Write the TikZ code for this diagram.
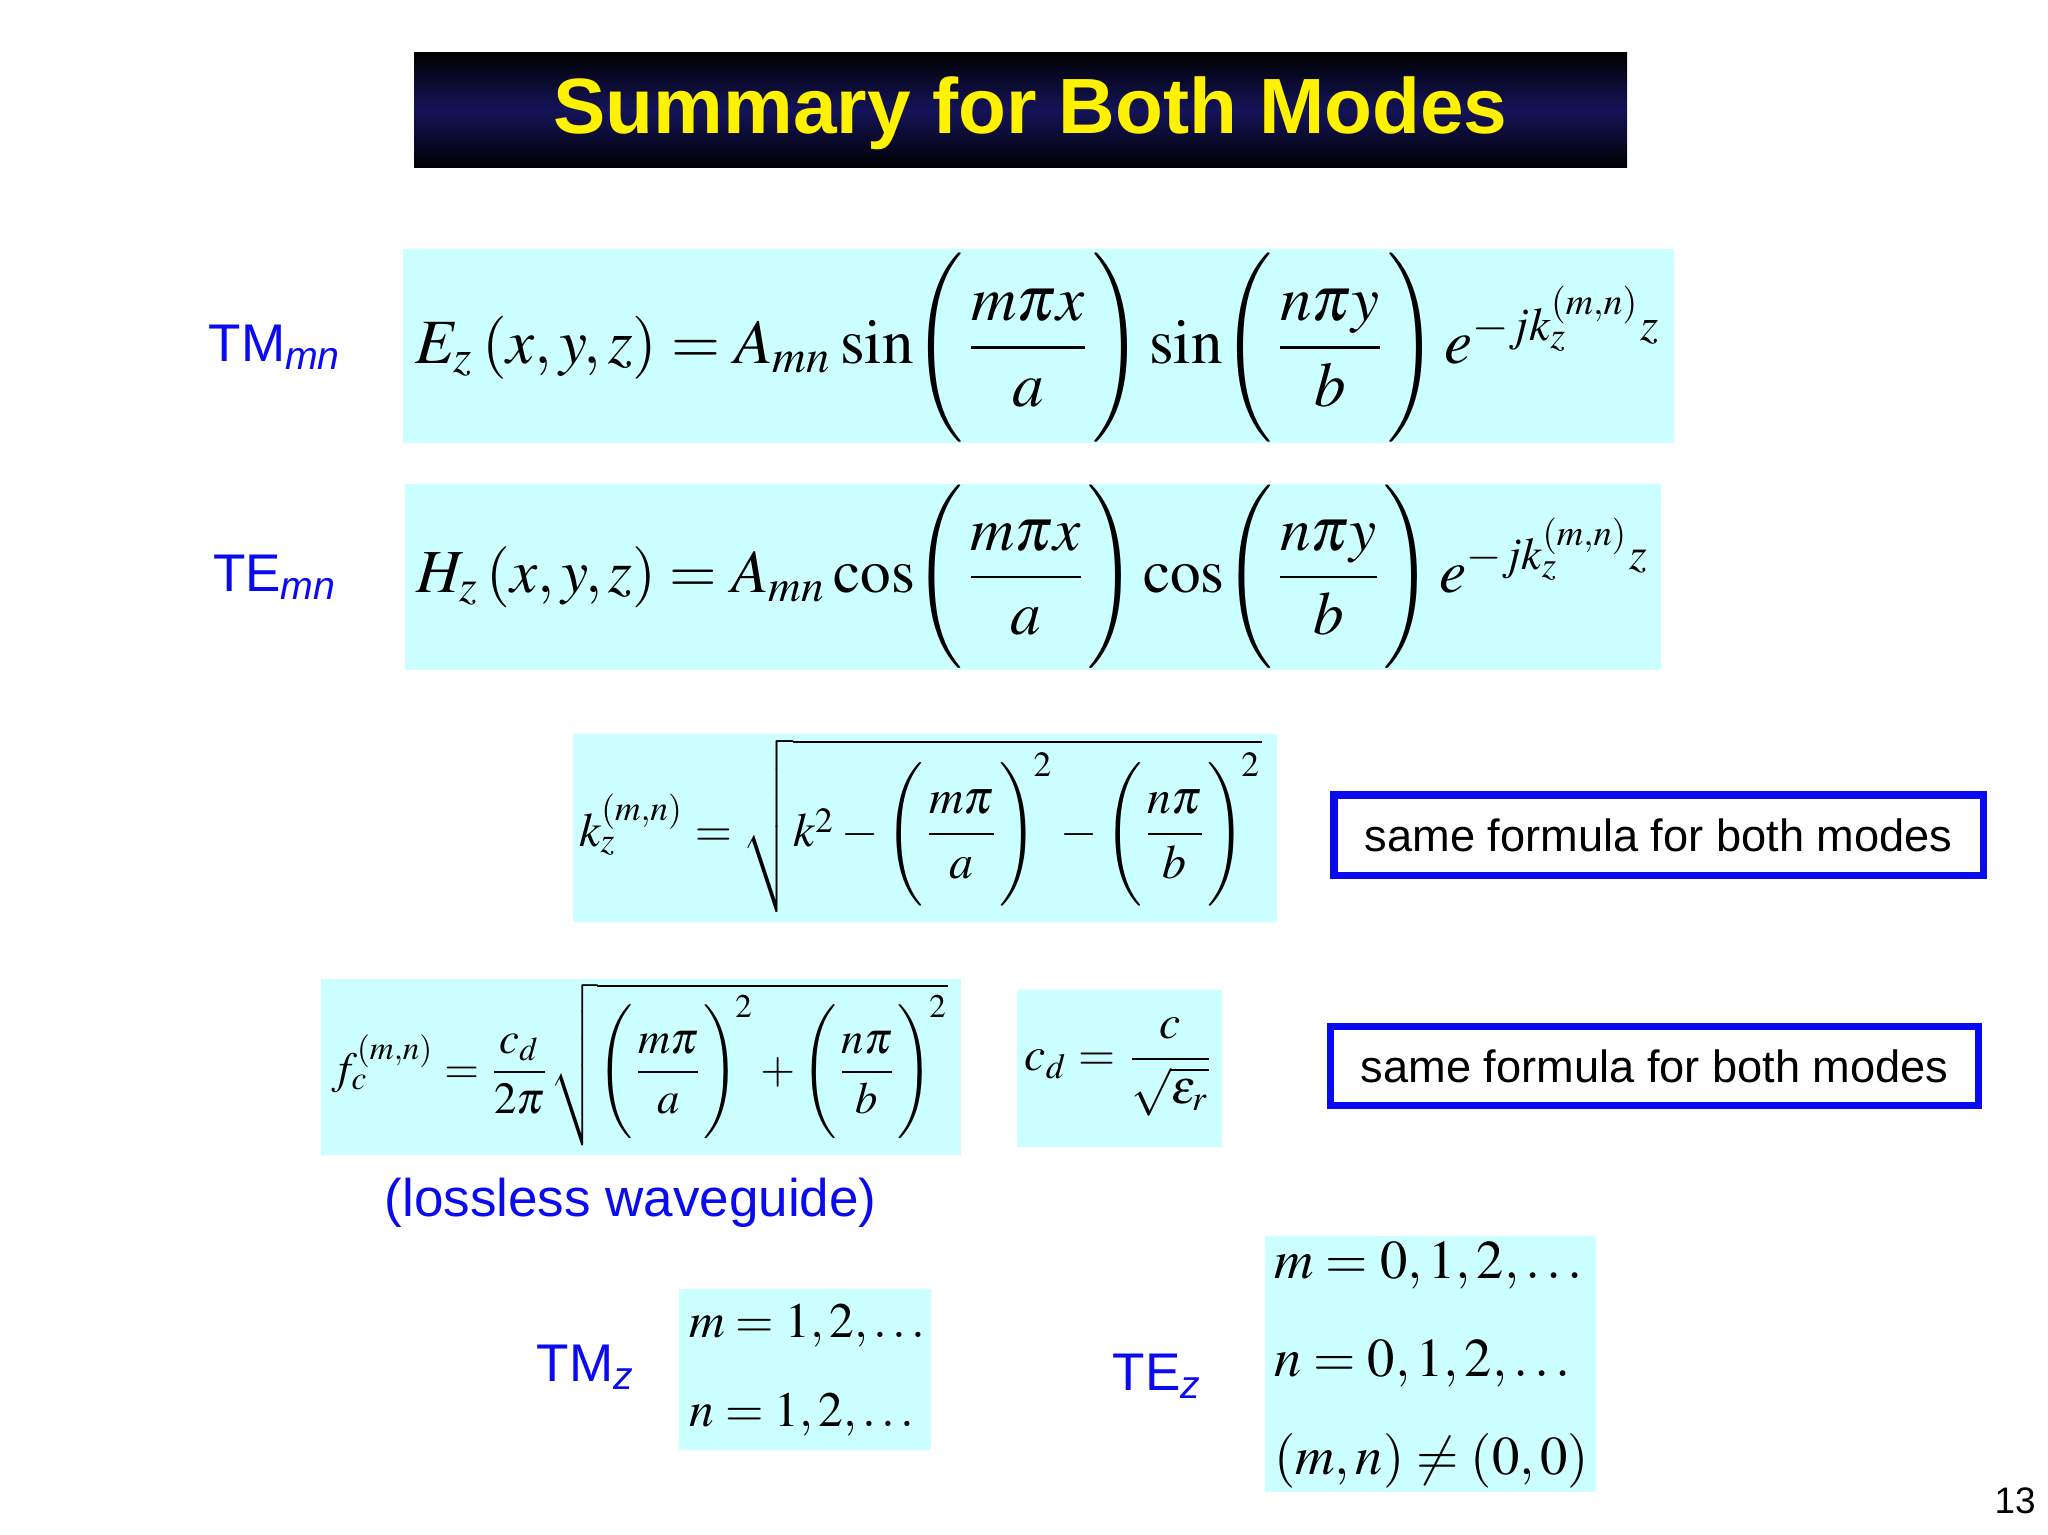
\documentclass[tikz,border=0pt]{standalone}
\usepackage{mathptmx}
\usepackage{amsmath}
\usepackage{graphicx}
\usepackage{fontspec}
\setmainfont{Liberation Sans}
\definecolor{cyanbg}{RGB}{204,255,255}
\definecolor{tblue}{RGB}{10,10,240}
\tikzset{lbl/.style={text=tblue,font=\fontsize{11.5}{13}\selectfont},
 outbox/.style={draw=tblue,line width=1.6pt,font=\fontsize{9.8}{11}\selectfont}}
\newcommand{\tall}{\vphantom{\dfrac{m_{j}^{2}}{b_{j}}}}
\begin{document}
\begin{tikzpicture}[x=0.01cm,y=-0.01cm]
\useasboundingbox (0,0) rectangle (1562,1170);
\fill[top color=black,bottom color=black,middle color={rgb,255:red,20;green,20;blue,90}] (316,40) rectangle (1241,128);
\node (title) at (786,86) {\fontsize{17}{20}\selectfont\bfseries\color{yellow} Summary for Both Modes};
% boxes
\fill[cyanbg] (307,190) rectangle (1277,338);
\fill[cyanbg] (309,369) rectangle (1267,511);
\fill[cyanbg] (437,560) rectangle (974,703);
\fill[cyanbg] (245,747) rectangle (733,881);
\fill[cyanbg] (776,755) rectangle (932,875);
\fill[cyanbg] (518,983) rectangle (710,1106);
\fill[cyanbg] (965,943) rectangle (1217,1138);
\node (e1) at (792,265) {\resizebox{9.5cm}{!}{$E_z\left(x,y,z\right)=A_{mn}\sin\!\left(\tall\dfrac{m\pi x}{a}\right)\sin\!\left(\tall\dfrac{n\pi y}{b}\right)e^{-jk_z^{(m,n)}z}$}};
\node (e2) at (788,440) {\resizebox{9.4cm}{!}{$H_z\left(x,y,z\right)=A_{mn}\cos\!\left(\tall\dfrac{m\pi x}{a}\right)\cos\!\left(\tall\dfrac{n\pi y}{b}\right)e^{-jk_z^{(m,n)}z}$}};
\node (e3) at (702,630) {\resizebox{5.2cm}{!}{$k_z^{(m,n)}=\sqrt{k^2-\left(\tall\dfrac{m\pi}{a}\right)^{\!2}-\left(\tall\dfrac{n\pi}{b}\right)^{\!2}}$}};
\node (e4) at (488,812) {\resizebox{4.7cm}{!}{$f_c^{(m,n)}=\dfrac{c_d}{2\pi}\sqrt{\left(\tall\dfrac{m\pi}{a}\right)^{\!2}+\left(\tall\dfrac{n\pi}{b}\right)^{\!2}}$}};
\node (e5) at (854,814) {\resizebox{1.45cm}{!}{$c_d=\dfrac{c}{\sqrt{\varepsilon_r}}$}};
\node[anchor=west,inner sep=0pt] (e6) at (525,1045) {\resizebox{1.8cm}{!}{$\begin{array}{@{}l@{}}m=1,2,\ldots\\[6pt] n=1,2,\ldots\end{array}$}};
\node[anchor=west,inner sep=0pt] (e7) at (971,1040) {\resizebox{2.4cm}{!}{$\begin{array}{@{}l@{}}m=0,1,2,\ldots\\[6pt] n=0,1,2,\ldots\\[6pt] \left(m,n\right)\neq\left(0,0\right)\end{array}$}};
% labels
\node[lbl] (l1) at (210,265) {TM\textsubscript{\itshape mn}};
\node[lbl] (l2) at (210,440) {TE\textsubscript{\itshape mn}};
\node[lbl] (l3) at (481,917) {(lossless waveguide)};
\node[lbl] (l4) at (447,1043) {TM\textsubscript{\itshape z}};
\node[lbl] (l5) at (883,1050) {TE\textsubscript{\itshape z}};
\node[outbox,minimum width=4.95cm,minimum height=0.61cm] (o1) at (1265,637) {same formula for both modes};
\node[outbox,minimum width=4.94cm,minimum height=0.60cm] (o2) at (1262,813) {same formula for both modes};
\node (pg) at (1537,1145) {\fontsize{8}{9}\selectfont 13};
\end{tikzpicture}
\end{document}
